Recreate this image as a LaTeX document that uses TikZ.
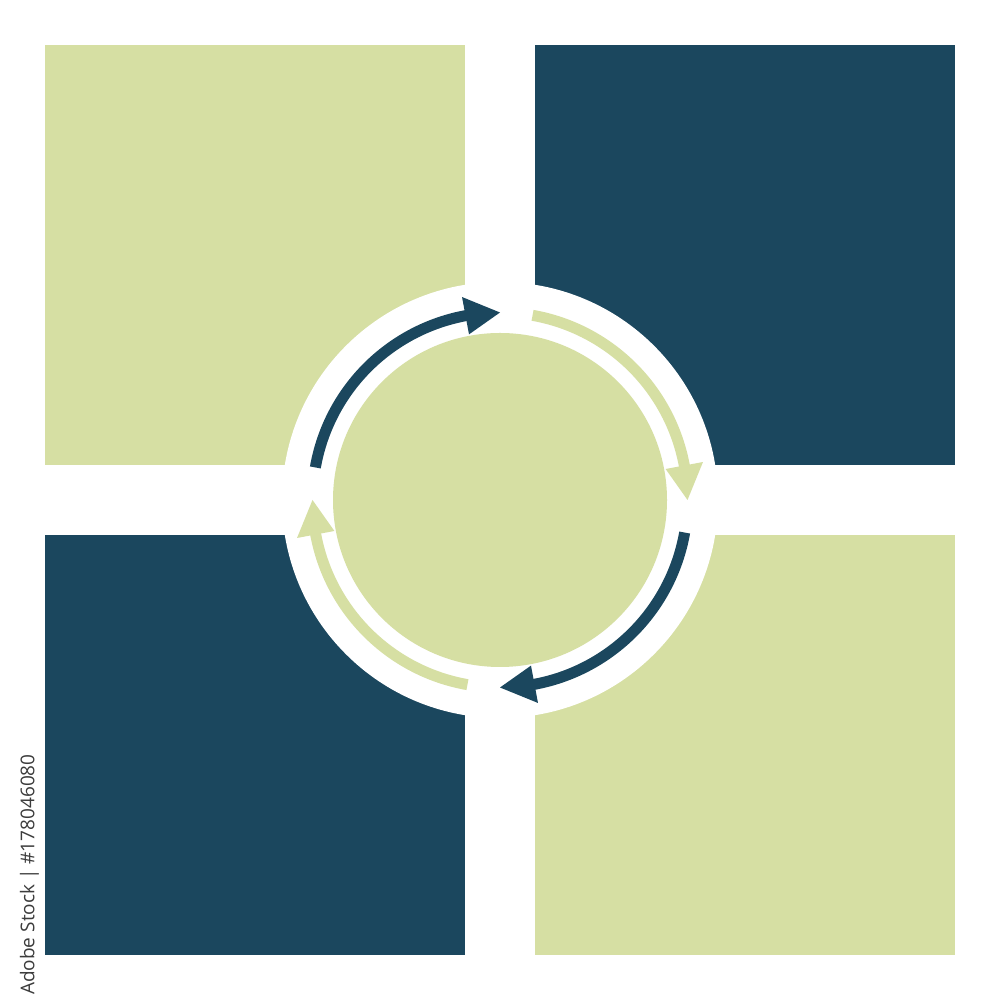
\documentclass[tikz,border=0pt]{standalone}
\usepackage{fontspec}
\newfontfamily\wmfont{Open Sans}
\definecolor{leaf}{RGB}{214,223,163}
\definecolor{navy}{RGB}{27,71,94}
\definecolor{idgray}{RGB}{60,60,60}
\begin{document}
\begin{tikzpicture}[x=1pt,y=1pt,
  tile/.style={fill=#1},
  arcline/.style={draw=#1,line width=11pt,line cap=butt},
  headtri/.style={fill=#1}]
\useasboundingbox[fill=white] (0,0) rectangle (1000,1000);
% four squares
\fill[tile=leaf] (45,535) rectangle (465,955);
\fill[tile=navy] (535,535) rectangle (955,955);
\fill[tile=navy] (45,45) rectangle (465,465);
\fill[tile=leaf] (535,45) rectangle (955,465);
\begin{scope}[shift={(500,500)}]
  \fill[white] (0,0) circle[radius=218];
  \fill[leaf] (0,0) circle[radius=167];
  % arrows, clockwise
  \foreach \t/\c in {90/navy,0/leaf,-90/navy,-180/leaf}{
    \draw[arcline=\c] (\t+80:187.5) arc[start angle=\t+80, end angle=\t+10, radius=187.5];
    \fill[headtri=\c] (\t+10.6:206.5) -- (\t:187.5) -- (\t+10.6:168.5) -- cycle;
  }
\end{scope}
\node[rotate=90,anchor=west,inner sep=0pt,font=\wmfont\fontsize{19}{21}\selectfont,text=idgray] (stockid) at (29.5,5) {Adobe Stock | \#178046080};
\end{tikzpicture}
\end{document}
